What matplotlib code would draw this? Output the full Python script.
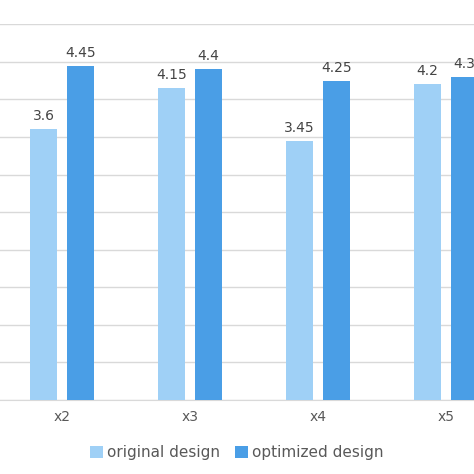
import matplotlib.pyplot as plt
import numpy as np

groups = ['x2', 'x3', 'x4', 'x5']
original = [3.6, 4.15, 3.45, 4.2]
optimized = [4.45, 4.4, 4.25, 4.3]

fig = plt.figure(figsize=(4.74, 4.74), dpi=100)
# axes wider than the figure: the reference is a crop of a larger chart
ax = fig.add_axes([-0.274, 0.156, 1.35, 0.793])

x = np.arange(len(groups))
w = 0.21
b1 = ax.bar(x - 0.145, original, w, color='#9fd0f6', label='original design', zorder=3)
b2 = ax.bar(x + 0.145, optimized, w, color='#4a9ee6', label='optimized design', zorder=3)
for bars in (b1, b2):
    for r in bars:
        ax.text(r.get_x() + r.get_width() / 2, r.get_height() + 0.08, f'{r.get_height():g}',
                ha='center', va='bottom', fontsize=10, color='#444444')

ax.set_ylim(0, 5)
ax.set_xlim(-1.5, 3.5)
ax.set_yticks(np.arange(0, 5.01, 0.5))
ax.yaxis.grid(True, color='#d9d9d9', lw=1, zorder=0)
ax.set_yticklabels([])
ax.tick_params(left=False, bottom=False, colors='#595959', labelsize=10)
ax.set_xticks(x)
ax.set_xticklabels(groups)
for s in ['top', 'right', 'left']:
    ax.spines[s].set_visible(False)
ax.spines['bottom'].set_color('#d9d9d9')

fig.legend(handles=[b1, b2], loc='lower center', bbox_to_anchor=(0.5, 0.0), ncol=2,
           frameon=False, fontsize=11, handlelength=0.8, handleheight=0.8,
           columnspacing=1.0, handletextpad=0.3, labelcolor='#595959')

fig.savefig('out.png', dpi=100)
